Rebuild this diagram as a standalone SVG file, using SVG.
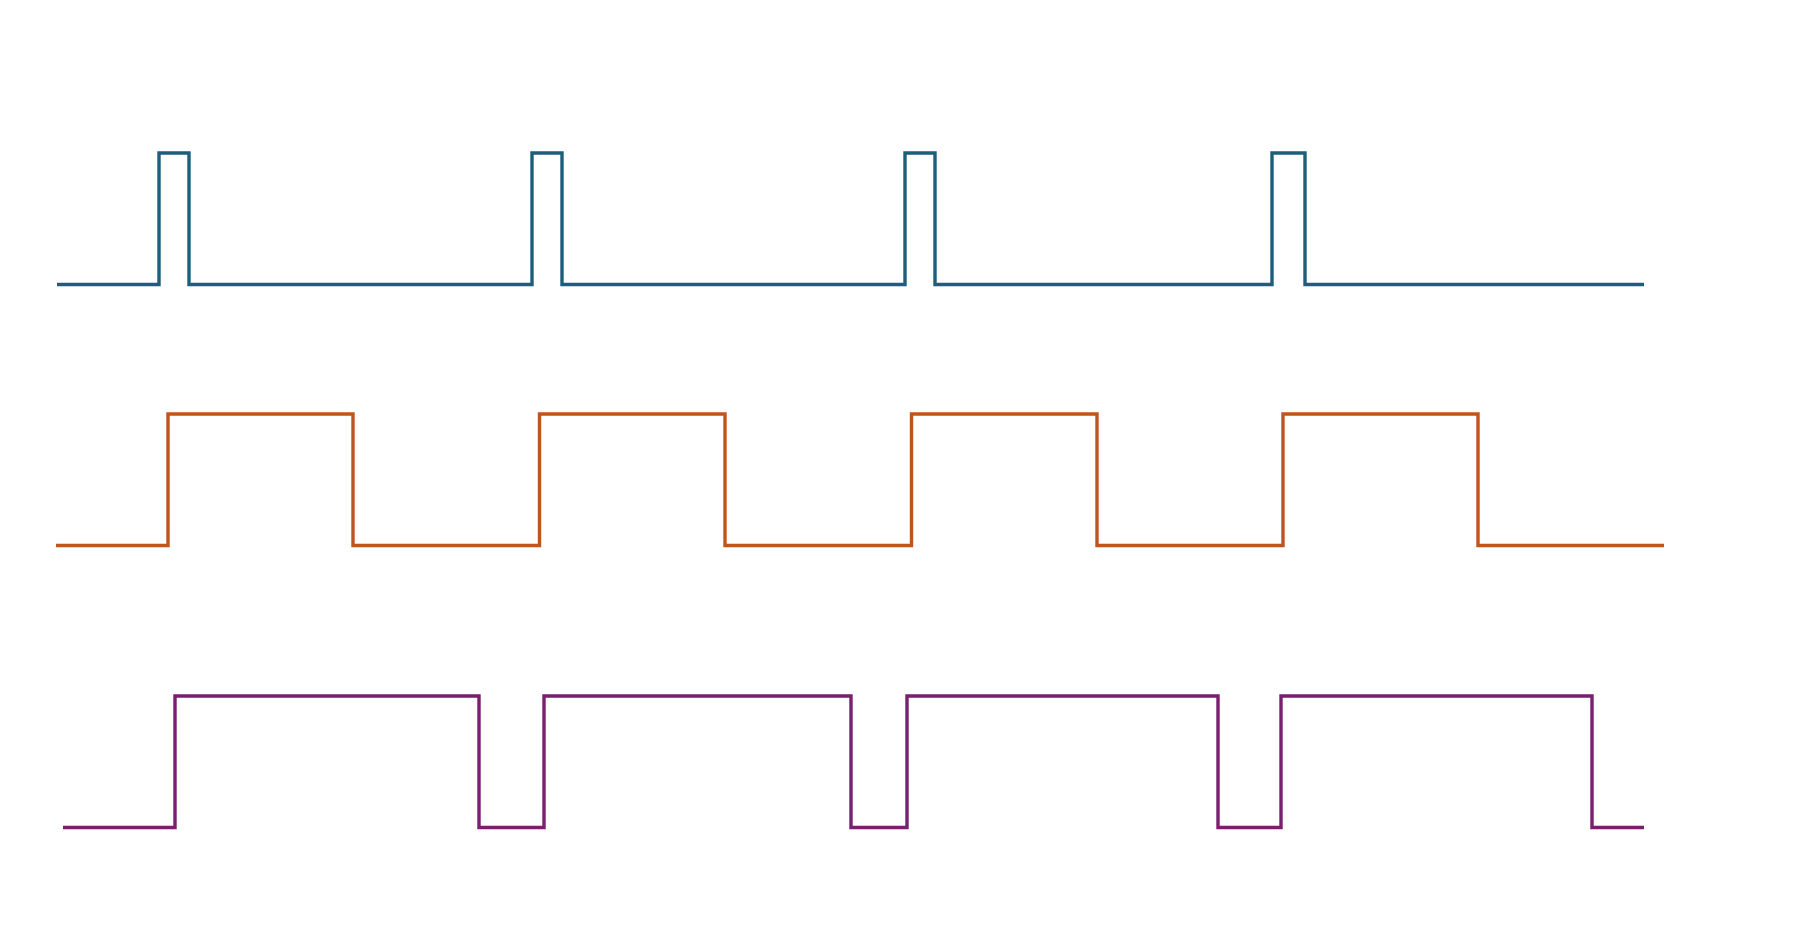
<svg xmlns="http://www.w3.org/2000/svg" width="1816" height="934" viewBox="0 0 1816 934">
<style>
.w{fill:none;stroke-width:3.4;stroke-linejoin:miter;stroke-linecap:butt}
.a{stroke:#1d5e7c}
.b{stroke:#c0541d}
.c{stroke:#7a1f6f}
</style>
<rect width="1816" height="934" fill="#ffffff"/>
<g id="connectors">
<path id="signal1" class="w a" d="M57,284.5 H159 V153 H189 V284.5 H532 V153 H562 V284.5 H905 V153 H935 V284.5 H1272 V153 H1305 V284.5 H1644"/>
<path id="signal2" class="w b" d="M56,545.5 H168 V414 H353 V545.5 H539.5 V414 H725 V545.5 H911.5 V414 H1097 V545.5 H1283 V414 H1478 V545.5 H1664"/>
<path id="signal3" class="w c" d="M63,827.5 H175 V696 H479 V827.5 H544 V696 H851 V827.5 H907 V696 H1218 V827.5 H1281 V696 H1592 V827.5 H1644"/>
</g>
</svg>
